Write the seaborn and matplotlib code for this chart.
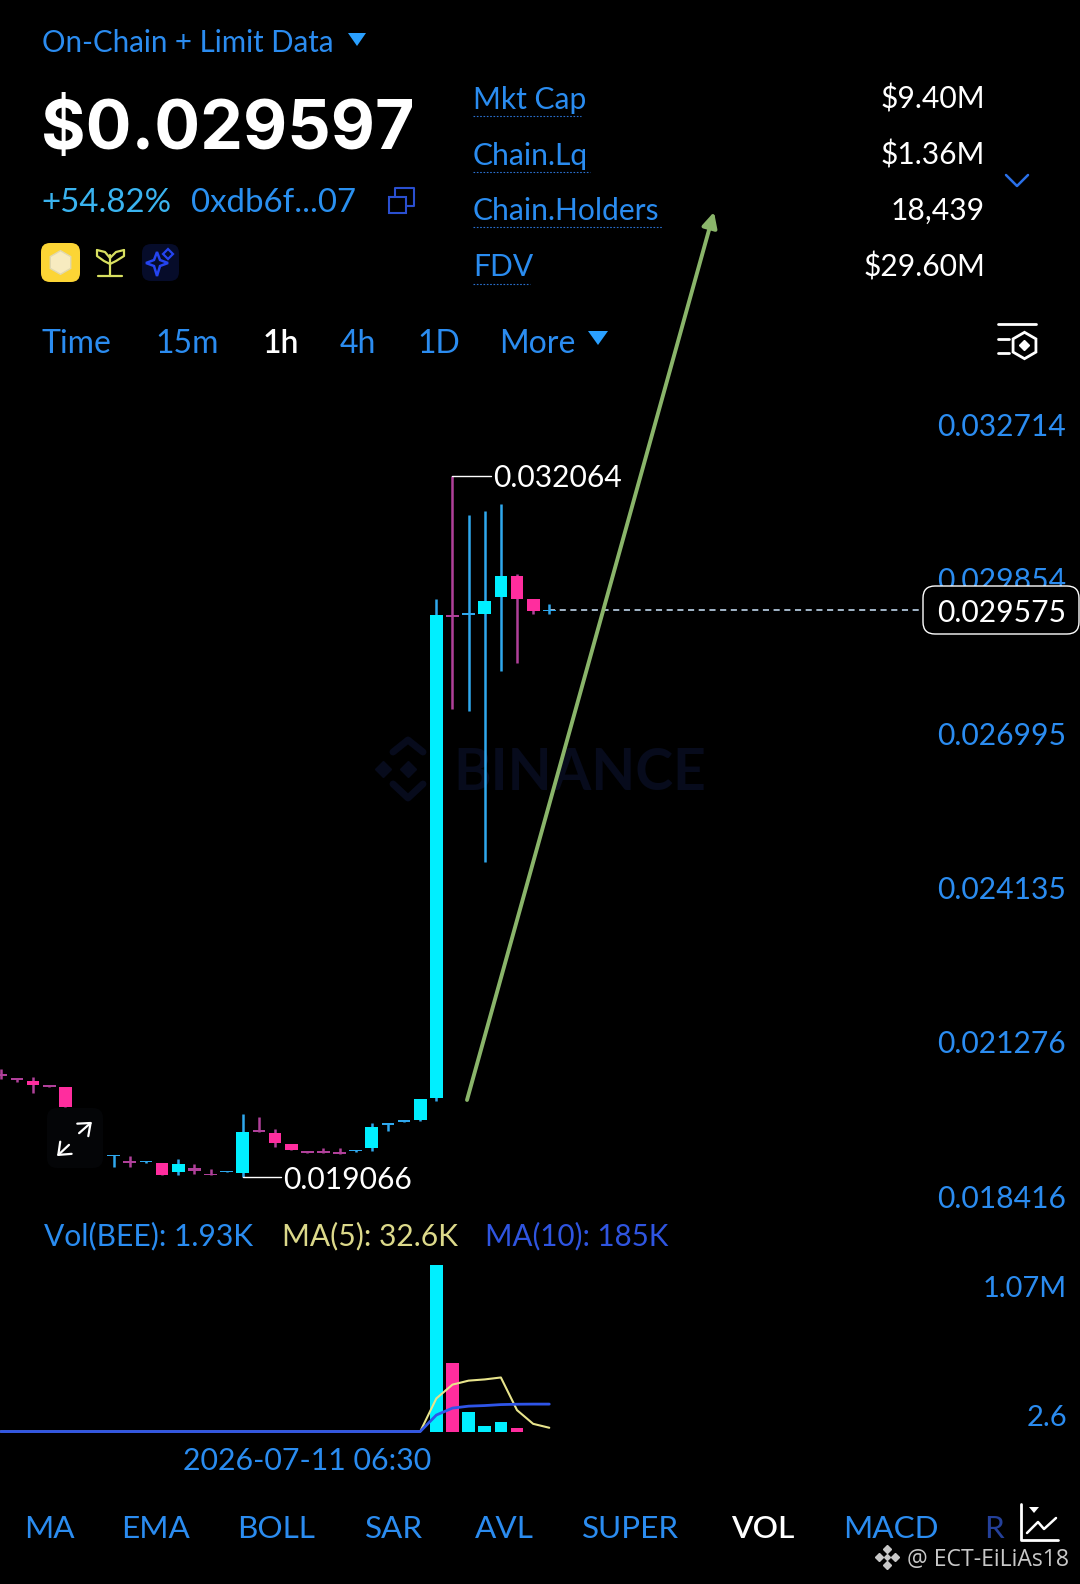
import numpy as np
import pandas as pd
import seaborn as sns
import matplotlib.pyplot as plt
from matplotlib.patches import FancyBboxPatch, Polygon, Rectangle, FancyArrowPatch

nan = float("nan")

# candles, oldest first (5 and 6 sit behind the expand button)
opens = [0.020974, 0.020900, 0.020850, 0.020770, 0.020739, nan, nan, 0.019455, 0.019362, 0.019344,
         0.019337, 0.019158, 0.019232, 0.019128, 0.019165, 0.019152, 0.019943, 0.019893, 0.019677, 0.019554,
         0.019554, 0.019535, 0.019547, 0.019603, 0.020035, 0.020097, 0.020128, 0.020529, 0.029477, 0.029483,
         0.029502, 0.029811, 0.030212, 0.029774, 0.029555]
closes = [0.020949, 0.020869, 0.020783, 0.020739, 0.020375, nan, nan, 0.019486, 0.019331, 0.019375,
          0.019115, 0.019319, 0.019183, 0.019103, 0.019189, 0.019906, 0.019912, 0.019696, 0.019572, 0.019523,
          0.019523, 0.019504, 0.019578, 0.020004, 0.020066, 0.020128, 0.020511, 0.029477, 0.029453, 0.029514,
          0.029749, 0.030212, 0.029786, 0.029564, 0.029575]
highs = [0.021067, 0.020900, 0.020918, 0.020770, 0.020739, nan, nan, 0.019486, 0.019467, 0.019375,
         0.019337, 0.019399, 0.019313, 0.019214, 0.019189, 0.020239, 0.020177, 0.019955, 0.019677, 0.019554,
         0.019615, 0.019603, 0.019578, 0.020066, 0.020066, 0.020128, 0.020523, 0.029774, 0.032064, 0.031336,
         0.031416, 0.031534, 0.030249, 0.029774, 0.029687]
lows = [0.020887, 0.020838, 0.020622, 0.020739, 0.020375, nan, nan, 0.019251, 0.019263, 0.019325,
        0.019115, 0.019109, 0.019128, 0.019103, 0.019165, 0.019066, 0.019912, 0.019634, 0.019572, 0.019523,
        0.019510, 0.019504, 0.019535, 0.019547, 0.019930, 0.020097, 0.020116, 0.020480, 0.027748, 0.027711,
        0.024907, 0.028452, 0.028600, 0.029496, 0.029502]

volumes = [1500] * 27 + [1377000, 570000, 165000, 47000, 83000, 27000, 4000, 1930]
vol_dirs = ["down", "down", "down", "down", "down", "down", "down", "up", "down", "up",
            "down", "up", "down", "down", "up", "up", "down", "down", "down", "down",
            "down", "down", "up", "up", "up", "up", "up", "up", "down", "up",
            "up", "up", "down", "down", "up"]
ma5 = [1500] * 27 + [275000, 389000, 422000, 432000, 448000, 178000, 65000, 32600]
ma10 = [1500] * 27 + [137700, 195000, 211000, 216000, 224000, 227000, 228000, 228000]

price_ticks = [0.032714, 0.029854, 0.026995, 0.024135, 0.021276, 0.018416]
vol_ticks = [1070000, 2.6]
vol_tick_labels = ["1.07M", "2.6"]
last_price = 0.029575
high_label = 0.032064
low_label = 0.019066

stat_names = ["Mkt Cap", "Chain.Lq", "Chain.Holders", "FDV"]
stat_values = ["$9.40M", "$1.36M", "18,439", "$29.60M"]
intervals = ["Time", "15m", "1h", "4h", "1D", "More"]
indicators = ["MA", "EMA", "BOLL", "SAR", "AVL", "SUPER", "VOL", "MACD", "R"]

CYAN = "#00EFFF"
PINK = "#FF2D9E"
WICK_UP = "#2FA8EE"
WICK_DOWN = "#B0409A"
BLUE = "#2B8CF0"
DEEP_BLUE = "#2F55E8"
YELLOW = "#E8E48C"
FONT = ["Lato", "DejaVu Sans"]

W, H = 1080, 1584

sns.set_theme(style="dark", rc={"figure.facecolor": "black", "axes.facecolor": "black"})
plt.rcParams["font.family"] = FONT

fig = plt.figure(figsize=(W / 100, H / 100), dpi=100)


def band(top, bottom):
    return [0, 1 - bottom / H, 1, (bottom - top) / H]


def px(size):
    return size * 0.72


# background layer in pixel coords, only for the faint watermark
ax_bg = fig.add_axes([0, 0, 1, 1], zorder=0)
ax_bg.set_xlim(0, W)
ax_bg.set_ylim(H, 0)
ax_bg.axis("off")
MARK = "#070B1C"
ax_bg.text(453, 768, "BINANCE", color=MARK, fontsize=px(57), fontweight="bold", va="center_baseline")
ax_bg.plot([393, 408, 423], [752, 740, 752], color=MARK, lw=5)
ax_bg.plot([393, 408, 423], [784, 798, 784], color=MARK, lw=5)
ax_bg.plot([383, 408], [769, 769], color=MARK, marker="D", ms=8, lw=0)

# price panel
ax = fig.add_axes(band(400, 1225), zorder=1)
ax.patch.set_alpha(0)
x = np.arange(len(opens))
o, c, h, l = map(np.array, (opens, closes, highs, lows))
up = c >= o
ax.vlines(x, l, h, colors=[WICK_UP if u else WICK_DOWN for u in up], lw=1.8, zorder=2)
thin = np.abs(c - o) < 0.00006
body_colors = [(WICK_UP if u else WICK_DOWN) if t else (CYAN if u else PINK) for u, t in zip(up, thin)]
ax.bar(x, np.abs(c - o), bottom=np.minimum(o, c), width=0.79, color=body_colors, lw=0, zorder=3)

ax.set_xlim(-0.05, 66.9)
ax.set_ylim(0.018182, 0.033466)
ax.set_xticks([])
ax.set_yticks([])
sns.despine(ax=ax, left=True, bottom=True)

for t in price_ticks:
    ax.annotate(f"{t:.6f}", xy=(1, t), xycoords=("axes fraction", "data"), xytext=(px(-14), px(16)),
                textcoords="offset points", ha="right", va="center_baseline", color=BLUE, fontsize=px(30))

ax.plot([34, 58], [last_price, last_price], color="#CFE8FF", lw=1.1, ls=(0, (4, 3)), zorder=1)
ax.plot([28, 30.4], [high_label, high_label], color="white", lw=1, zorder=4)
ax.plot([15, 17.4], [low_label, low_label], color="white", lw=1, zorder=4)
ax.annotate(f"{high_label:.6f}", xy=(30.4, high_label), xytext=(px(2), 0), textcoords="offset points",
            color="white", va="center_baseline", fontsize=px(30))
ax.annotate(f"{low_label:.6f}", xy=(17.4, low_label), xytext=(px(2), 0), textcoords="offset points",
            color="white", va="center_baseline", fontsize=px(30))

# volume panel
ax_vol = fig.add_axes(band(1245, 1440), zorder=1)
ax_vol.patch.set_alpha(0)
vol_df = pd.DataFrame({"i": x, "volume": volumes, "dir": vol_dirs, "ma5": ma5, "ma10": ma10})
sns.barplot(data=vol_df[vol_df["volume"] > 10000], x="i", y="volume", hue="dir", palette={"up": CYAN, "down": PINK},
            dodge=False, width=0.79, saturation=1, native_scale=True, legend=False, ax=ax_vol, lw=0, zorder=2)
sns.lineplot(data=vol_df, x="i", y="ma5", color=YELLOW, lw=1.5, ax=ax_vol, zorder=3)
sns.lineplot(data=vol_df, x="i", y="ma10", color=DEEP_BLUE, lw=2, ax=ax_vol, zorder=4)
ax_vol.set_xlim(-0.05, 66.9)
ax_vol.set_ylim(-68600, 1542700)
ax_vol.set_xticks([])
ax_vol.set_yticks([])
ax_vol.set_xlabel("")
ax_vol.set_ylabel("")
sns.despine(ax=ax_vol, left=True, bottom=True)
for t, lab in zip(vol_ticks, vol_tick_labels):
    ax_vol.annotate(lab, xy=(1, t), xycoords=("axes fraction", "data"), xytext=(px(-13), px(16)),
                    textcoords="offset points", ha="right", va="center_baseline", color=BLUE, fontsize=px(29))

# app chrome on top, pixel coords
ui = fig.add_axes([0, 0, 1, 1], zorder=2)
ui.patch.set_alpha(0)
ui.set_xlim(0, W)
ui.set_ylim(H, 0)
ui.axis("off")


def label(xp, yp, s, size, color=BLUE, ha="left", **kw):
    ui.text(xp, yp, s, fontsize=px(size), color=color, ha=ha, va="center_baseline", **kw)


def tri(x0, x1, y0, y1, color="#2AA0FF"):
    ui.add_patch(Polygon([(x0, y0), (x1, y0), ((x0 + x1) / 2, y1)], color=color, lw=0))


label(42, 40, "On-Chain + Limit Data", 29.5)
tri(348, 366, 33, 46)
label(41, 124, "$0.029597", 68, "white", fontweight="bold", family=["Inter", "DejaVu Sans"])
label(41, 200, "+54.82%", 33, "#3AB4F0")
label(191, 200, "0xdb6f...07", 33, "#2A90F0")

# copy icon
ui.add_patch(Rectangle((389, 197), 17, 16, fill=False, ec="#2A4FD0", lw=1.5))
ui.plot([395, 395, 414, 414, 407], [197, 188, 188, 206, 206], color="#2A4FD0", lw=1.5)

# badges
ui.add_patch(FancyBboxPatch((45, 247), 31, 31, boxstyle="round,pad=4,rounding_size=9", fc="#FCD535", ec="none"))
ui.plot([60], [262], marker="h", ms=17, mfc="#F7EBC0", mec="#E0D8B0", mew=1)
ui.plot([110, 110], [255, 276], color="#D8E060", lw=1.6)
ui.plot([98, 122], [276, 276], color="#D8E060", lw=1.6)
ui.plot([97, 97, 104, 110], [250, 256, 261, 264], color="#D8E060", lw=1.6)
ui.plot([124, 124, 116, 110], [250, 256, 261, 264], color="#D8E060", lw=1.6)
ui.plot([97, 105, 110], [250, 252, 258], color="#D8E060", lw=1.6)
ui.plot([124, 116, 110], [250, 252, 258], color="#D8E060", lw=1.6)
ui.add_patch(FancyBboxPatch((146, 248), 29, 29, boxstyle="round,pad=4,rounding_size=9", fc="#060C2A", ec="none"))
ui.add_patch(Polygon([(157, 252), (160, 260), (168, 263), (160, 266), (157, 276), (154, 266), (146, 263), (154, 260)],
                     fill=False, ec="#2444F0", lw=1.8))
ui.plot([168], [254], marker="D", ms=5.5, mfc="none", mec="#2444F0", mew=1.6)

# stats block
stat_ys = [97, 153, 208, 265]
stat_ends = [581, 590, 662, 530]
for name, val, yp, xe in zip(stat_names, stat_values, stat_ys, stat_ends):
    label(473, yp, name, 30, "#2A8CF0")
    ui.plot([473, xe], [yp + 19, yp + 19], color="#2A70D0", lw=0.8, ls=(0, (1.5, 1.5)))
    label(985, yp, val, 30, "white", ha="right")
ui.plot([1006, 1017, 1028], [175, 186, 175], color="#2A70E8", lw=1.8)

# interval row
interval_xs = [42, 155, 263, 340, 417, 499]
for name, xp in zip(intervals, interval_xs):
    sel = name == "1h"
    label(xp, 341, name, 32, "white" if sel else BLUE, fontweight="semibold" if sel else "normal")
tri(588, 608, 331, 345)

# settings icon
ui.plot([998, 1036], [324, 324], color="white", lw=2)
ui.plot([998, 1009], [339, 339], color="white", lw=2)
ui.plot([998, 1009], [353, 353], color="white", lw=2)
ui.plot([1024], [345], marker="h", ms=19, mfc="none", mec="white", mew=2)
ui.plot([1024], [345], marker="D", ms=5, mfc="white", mec="white")

# last price box, hides part of the tick label behind it
ui.add_patch(FancyBboxPatch((931, 594), 140, 32, boxstyle="round,pad=8,rounding_size=12", fc="black", ec="white", lw=1))
label(1066, 611, f"{last_price:.6f}", 30, "white", ha="right")

# expand button
ui.add_patch(FancyBboxPatch((52, 1113), 46, 50, boxstyle="round,pad=5,rounding_size=10", fc="#040507", ec="none"))
ui.add_patch(FancyArrowPatch((77, 1135), (94, 1120), arrowstyle="->,head_length=5,head_width=4", color="white", lw=1.6, mutation_scale=1.5))
ui.add_patch(FancyArrowPatch((71, 1143), (55, 1158), arrowstyle="->,head_length=5,head_width=4", color="white", lw=1.6, mutation_scale=1.5))

# hand drawn green arrow
ui.add_patch(FancyArrowPatch((467, 1100), (714, 212), arrowstyle="-|>,head_length=6,head_width=3", color="#8AB56A", lw=2.8, mutation_scale=1.5, shrinkA=0, shrinkB=0))

# volume legend and time stamp
label(44, 1234, "Vol(BEE): 1.93K", 30, "#2A8CF0")
label(282, 1234, "MA(5): 32.6K", 30, "#DCD98A")
label(485, 1234, "MA(10): 185K", 29.5, "#2F55E0")
label(183, 1459, "2026-07-11 06:30", 30.3, "#2A8CF0")

# indicator row
indicator_xs = [24, 121, 237, 365, 475, 582, 731, 843, 984]
for name, xp in zip(indicators, indicator_xs):
    col = "white" if name == "VOL" else ("#24409A" if name == "R" else BLUE)
    label(xp, 1526, name, 31.5, col, fontweight="semibold" if name == "VOL" else "normal")

# chart icon
ui.plot([1021, 1021, 1058], [1504, 1540, 1540], color="white", lw=2)
ui.plot([1027, 1038, 1044, 1056], [1533, 1522, 1529, 1518], color="white", lw=1.8)
tri(1029, 1039, 1507, 1513, "white")

# repost tag
for dx, dy in [(0, -8), (-8, 0), (8, 0), (0, 8)]:
    ui.plot([887 + dx], [1557 + dy], marker="D", ms=4.5, color="#C8C8C8")
ui.plot([887], [1557], marker="D", ms=3, color="#C8C8C8")
ui.text(907, 1557, "@ ECT-EiLiAs18", fontsize=px(23), color="#C8C8C8", va="center_baseline", family=["Open Sans", "DejaVu Sans"])

fig.savefig("out.png", dpi=100, facecolor="black")
